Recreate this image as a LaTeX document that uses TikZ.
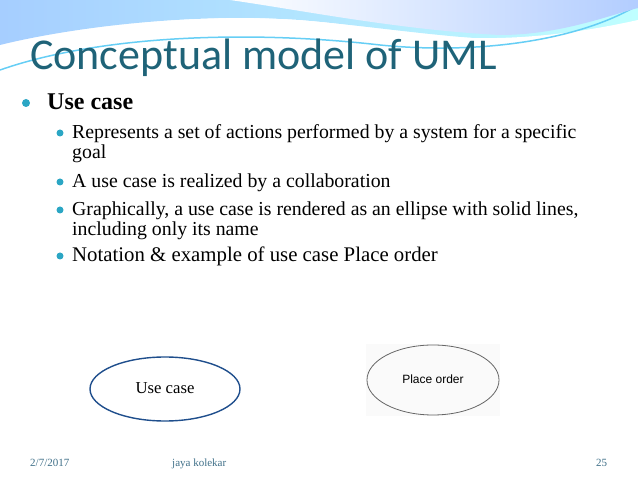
\documentclass[tikz,border=0pt]{standalone}
\usepackage{fontspec}
\setmainfont{Liberation Serif}
\newfontfamily\titlefont{Carlito}
\newfontfamily\arialf{Liberation Sans}
\definecolor{teal1}{HTML}{1F6378}
\definecolor{bul}{HTML}{2BA6C4}
\definecolor{foot}{HTML}{3F6F88}
\definecolor{ellblue}{HTML}{1F4E8C}
\begin{document}
\begin{tikzpicture}[x=1pt,y=-1pt,
  lvtwo/.style={anchor=base west,font=\fontsize{19.8}{22}\selectfont,inner sep=0},
  dot/.style={fill=bul,circle,inner sep=0,minimum size=#1}]
\useasboundingbox (0,0) rectangle (638,478);
% top decoration
\shade[left color=cyan!45!blue!35,right color=cyan!25] (0,0) -- (638,0) -- (638,20) .. controls (560,60) and (420,30) .. (300,20) .. controls (180,12) and (60,30) .. (0,45) -- cycle;
\fill[white] (0,48) .. controls (80,28) and (200,10) .. (320,22) .. controls (400,30) and (480,55) .. (638,20) -- (638,26) .. controls (520,60) and (420,48) .. (330,30) .. controls (220,20) and (100,30) .. (0,60) -- cycle;
\draw[cyan!60,line width=1.5] (0,70) .. controls (100,35) and (250,30) .. (380,45) .. controls (480,55) and (580,40) .. (638,5);
\shade[left color=white,right color=cyan!35!blue!30] (230,0) .. controls (300,10) and (400,30) .. (500,35) .. controls (560,35) and (610,15) .. (638,8) -- (638,0) -- cycle;
\node[anchor=base west,inner sep=0,text=teal1,font=\titlefont\fontsize{44}{48}\selectfont] (title) at (30,70) {Conceptual model of UML};
\node[dot=8pt] (b1) at (26,103) {};
\node[anchor=base west,inner sep=0,font=\bfseries\fontsize{24}{28}\selectfont] (uc) at (47,110) {Use case};
\node[dot=7pt] (b2) at (60,133) {};
\node[lvtwo] (t2) at (72,139) {Represents a set of actions performed by a system for a specific};
\node[lvtwo] (t2b) at (72,159) {goal};
\node[dot=7pt] (b3) at (60,182) {};
\node[lvtwo] (t3) at (72,188) {A use case is realized by a collaboration};
\node[dot=7pt] (b4) at (60,210) {};
\node[lvtwo] (t4) at (72,216) {Graphically, a use case is rendered as an ellipse with solid lines,};
\node[lvtwo] (t4b) at (72,236) {including only its name};
\node[dot=7pt] (b5) at (60,256) {};
\node[anchor=base west,inner sep=0,font=\fontsize{20.8}{23}\selectfont] (t5) at (72,262) {Notation \& example of use case Place order};
\draw[ellblue,line width=1.4] (165,389) ellipse [x radius=75,y radius=32];
\node[font=\fontsize{16.7}{19}\selectfont] (l1) at (165,388) {Use case};
\fill[gray!4] (366,344) rectangle (500,416);
\draw[gray!80!black,line width=0.8] (433,380) ellipse [x radius=66,y radius=35];
\node[font=\arialf\fontsize{12}{14}\selectfont] (l2) at (433,379) {Place order};
\node[anchor=base west,inner sep=0,text=foot,font=\fontsize{11}{13}\selectfont] (f1) at (30,467) {2/7/2017};
\node[anchor=base west,inner sep=0,text=foot,font=\fontsize{11}{13}\selectfont] (f2) at (172,467) {jaya kolekar};
\node[anchor=base west,inner sep=0,text=foot,font=\fontsize{11}{13}\selectfont] (f3) at (596,467) {25};
\end{tikzpicture}
\end{document}
